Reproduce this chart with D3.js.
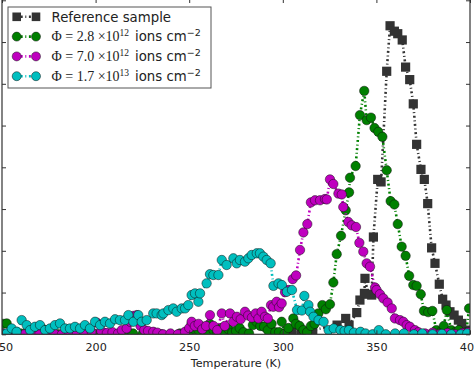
<!DOCTYPE html>
<html>
<head>
<meta charset="utf-8">
<script src="https://d3js.org/d3.v7.min.js"></script>
<style>
body { margin: 0; background: #fff; }
.axis text { font-family: "DejaVu Sans", sans-serif; font-size: 11.2px; fill: #222; }
.axis path { display: none; }
.axis line { stroke: #333; stroke-width: 1; }
.legend text { font-family: "DejaVu Sans", sans-serif; font-size: 13.3px; fill: #222; }
.legend .math { font-family: "Liberation Serif", serif; }
</style>
</head>
<body>
<svg id="chart" width="474" height="384"></svg>
<script>

// reference sample (T in K, signal in tick units)
var refT = [300,305,310,316,329,333.6,335.4,339.5,341.2,343.6,343.9,345.5,347.5,348.4,350.7,352.5,355.5,357.3,359.6,361.4,363.8,365.6,367.8,369.7,371.5,373.8,375.6,377.4,379.5,381.3,383.6,385.4,387.2,389.3,391.5,393.8,395.6,398.2];
var refV = [0.02,0.05,0.03,0.10,0.22,0.38,0.22,0.52,0.82,0.98,1.34,0.96,0.94,2.33,3.71,3.65,6.30,7.39,7.26,7.20,7.05,6.40,6.10,5.52,4.55,3.95,3.71,3.13,2.07,1.70,1.20,0.84,0.70,0.54,0.46,0.34,0.26,0.10];

// phi = 2.8e12
var g1T = [150.5,152.5,156,160,164,168,172,176,180,185,190,195,200,205,210,215,220,225,230,235,240,245,250,251.3,253,255,257,259,261,263,265,267,269,271,273,275,277,279,282,284,286,288,290,292,294,296,298,299.4,301,303,305.6,307,309,311,313,315,317,319,321.1,323,325.2,327,328.8,331.1,333.6,335.4,335.9,338.9,341.2,343.5,344.8,347.1,349,351,353.2,355.5,357.6,359.6,361.4,363.5,365.6,367.5,369.7,371.5,373.7,375.4,377.7,379.9,382,384,386,387.6,390,392,394,396,398,399.5];
var g1V = [0.25,0.26,0.05,0.02,0.10,0.05,0.12,0.03,0.00,0.02,0.00,0.03,0.00,0.02,0.00,0.05,0.02,0.00,0.03,0.00,0.00,0.02,0.05,0.25,0.12,0.10,0.18,0.05,0.25,0.10,0.02,0.15,0.05,0.12,0.04,0.08,0.15,0.05,0.02,0.22,0.30,0.20,0.18,0.10,0.25,0.05,0.05,0.30,0.02,0.15,0.38,0.25,0.20,0.10,0.05,0.20,0.25,0.50,0.70,0.60,0.72,1.24,1.92,2.36,2.97,3.40,3.75,4.03,5.25,5.83,5.13,5.19,4.94,4.85,4.73,3.93,3.19,3.11,2.64,2.10,1.88,1.40,1.18,1.16,0.96,0.56,0.53,0.56,0.10,0.05,0.20,0.58,0.10,0.05,0.10,0.02,0.05,0.62];

// phi = 7.0e12
var g2T = [150,154,158,162,166,170,174,178,182,186,190,194,198,200.6,203,206,209,212,214,216.6,218.5,220.1,222,224,226,228,230.8,233,236,240,244,247.8,250,251.3,253,255,257,259,261.1,263,265,267.4,269,271.8,273.5,275.5,277.5,279.8,281.5,283.5,285.5,287,288.7,290.5,292,293.7,294.9,296.7,298,299.4,301.2,302.9,305.3,307.1,309.2,311,313.1,315,317.2,319.9,322.5,323.5,325.2,327,329.7,331.5,332.3,335,336.8,339.1,340.9,343,344.8,346.6,349.3,350.1,351.9,353.7,356,358.2,359.9,362.6,364.4,366.2,367.9,370.6,372.4,376,380,384,388,392,396,399];
var g2V = [0.02,0.00,0.03,0.00,0.02,0.00,0.03,0.01,0.00,0.02,0.00,0.03,0.05,0.28,0.08,0.03,0.05,0.02,0.10,0.14,0.30,0.44,0.46,0.20,0.10,0.08,0.06,0.04,0.00,0.02,0.00,0.06,0.15,0.30,0.20,0.25,0.12,0.20,0.46,0.20,0.10,0.50,0.20,0.50,0.30,0.42,0.36,0.54,0.45,0.40,0.50,0.38,0.54,0.42,0.38,0.70,0.66,0.78,0.65,0.74,1.01,1.06,1.32,1.41,2.02,2.44,2.64,3.16,3.21,3.21,3.24,3.23,3.71,3.60,3.37,3.35,3.05,2.69,2.61,2.57,2.19,1.98,1.70,1.62,1.12,1.06,0.96,0.86,0.76,0.62,0.38,0.34,0.30,0.22,0.18,0.10,0.05,0.02,0.04,0.01,0.03,0.00,0.03,0.05];

// phi = 1.7e13
var g3T = [150.5,152.5,155.2,157.8,160.5,163.2,165,167.6,170.3,173,175.6,178.3,181,183.7,186.3,189,191.7,194.3,197,199.7,202.4,205,207.7,210.4,213,215.7,217.5,220.2,222.8,224.6,227.3,230.8,232.6,235.3,236.2,238.9,241.5,243.3,246,247.8,249.5,251.3,253.1,254.9,255.8,259.3,261.1,262.9,265.6,267.4,270,273.6,275.4,277.1,279.8,281.6,283.4,286.1,287.8,289.6,291.4,293.5,295,297.7,299.5,302.2,304.9,307.6,310.2,311.5,313.7,314.6,316.4,319.1,321.8,324.5,327.2,330.8,333,335.3,338,341.5,344.2,348,351.3,355,360,364.7,370,374.5,380,385,390,395,398.5];
var g3V = [0.00,0.02,0.14,0.06,0.34,0.22,0.10,0.18,0.22,0.10,0.14,0.22,0.26,0.14,0.14,0.18,0.14,0.22,0.14,0.30,0.22,0.30,0.26,0.36,0.34,0.34,0.46,0.30,0.46,0.30,0.34,0.50,0.50,0.46,0.50,0.58,0.62,0.54,0.62,0.62,0.70,0.94,0.98,0.78,0.98,1.22,1.44,1.42,1.42,1.78,1.66,1.82,1.70,1.78,1.74,1.82,1.90,1.94,1.94,1.86,1.78,1.70,1.16,1.22,1.18,1.02,1.06,0.58,0.57,0.92,0.70,0.54,0.42,0.34,0.30,0.10,0.14,0.10,0.08,0.10,0.04,0.06,0.02,0.00,0.10,0.00,0.02,0.02,0.00,0.02,0.00,0.01,0.00,0.00,0.02];

var xTicks = [150, 200, 250, 300, 350, 400];
var yTicks = [0, 1, 2, 3, 4, 5, 6, 7, 8];

var series = [
  {name: "ref", T: refT, V: refV, color: "#333333", shape: "square"},
  {name: "g1", T: g1T, V: g1V, color: "#008000", shape: "circle", mant: "2.8", exp: "12"},
  {name: "g2", T: g2T, V: g2V, color: "#bf00bf", shape: "circle", mant: "7.0", exp: "12"},
  {name: "g3", T: g3T, V: g3V, color: "#00bfbf", shape: "circle", mant: "1.7", exp: "13"}
];

var svg = d3.select("#chart");
var pLeft = 2, pRight = 470, pTop = -1, pBottom = 334.3;

var x = d3.scaleLinear().domain([150, 400]).range([pLeft, pRight]);
var y = d3.scaleLinear().domain([0, 8]).range([pBottom, 0.3]);

svg.append("defs").append("clipPath").attr("id", "plotclip")
  .append("rect").attr("x", pLeft).attr("y", pTop)
  .attr("width", pRight - pLeft).attr("height", pBottom - pTop);

var plot = svg.append("g").attr("clip-path", "url(#plotclip)");

var line = d3.line().x(function(d) { return x(d[0]); }).y(function(d) { return y(d[1]); });

series.forEach(function(s) {
  var pts = s.T.map(function(t, i) { return [t, s.V[i]]; });
  var g = plot.append("g").attr("class", "series " + s.name);
  g.append("path").datum(pts)
    .attr("d", line)
    .attr("fill", "none")
    .attr("stroke", s.color)
    .attr("stroke-width", 2.6)
    .attr("stroke-dasharray", "2,2.6,1,2.6");
  if (s.shape == "square") {
    g.selectAll("rect").data(pts).enter().append("rect")
      .attr("x", function(d) { return x(d[0]) - 4.6; })
      .attr("y", function(d) { return y(d[1]) - 4.6; })
      .attr("width", 9.2).attr("height", 9.2)
      .attr("fill", s.color);
  } else {
    g.selectAll("circle").data(pts).enter().append("circle")
      .attr("cx", function(d) { return x(d[0]); })
      .attr("cy", function(d) { return y(d[1]); })
      .attr("r", 4.7)
      .attr("fill", s.color)
      .attr("stroke", "#111").attr("stroke-width", 0.5);
  }
});

// axes, ticks pointing inward
svg.append("g").attr("class", "axis x")
  .attr("transform", "translate(0," + pBottom + ")")
  .call(d3.axisBottom(x).tickValues(xTicks).tickSizeInner(-4).tickSizeOuter(0).tickPadding(9));
svg.append("g").attr("class", "axis xtop")
  .attr("transform", "translate(0," + pTop + ")")
  .call(d3.axisTop(x).tickValues(xTicks).tickSizeInner(-4).tickSizeOuter(0).tickFormat(""));
svg.append("g").attr("class", "axis y")
  .attr("transform", "translate(" + pLeft + ",0)")
  .call(d3.axisLeft(y).tickValues(yTicks).tickSizeInner(-4).tickSizeOuter(0).tickFormat(""));
svg.append("g").attr("class", "axis yright")
  .attr("transform", "translate(" + pRight + ",0)")
  .call(d3.axisRight(y).tickValues(yTicks).tickSizeInner(-4).tickSizeOuter(0).tickFormat(""));

svg.append("rect")
  .attr("x", pLeft).attr("y", pTop)
  .attr("width", pRight - pLeft).attr("height", pBottom - pTop)
  .attr("fill", "none").attr("stroke", "#333").attr("stroke-width", 1.2);

svg.append("text")
  .attr("x", (pLeft + pRight) / 2).attr("y", 366.5)
  .attr("text-anchor", "middle")
  .style("font-family", "DejaVu Sans, sans-serif").style("font-size", "11.2px").style("fill", "#222")
  .text("Temperature (K)");

// legend
var legend = svg.append("g").attr("class", "legend");
legend.append("rect")
  .attr("x", 8).attr("y", 7).attr("width", 203).attr("height", 81)
  .attr("fill", "#fff").attr("stroke", "#555").attr("stroke-width", 1);

series.forEach(function(s, i) {
  var cy = 16.8 + i * 19.8;
  var row = legend.append("g");
  row.append("line")
    .attr("x1", 16.7).attr("x2", 36).attr("y1", cy).attr("y2", cy)
    .attr("stroke", s.color).attr("stroke-width", 2.6)
    .attr("stroke-dasharray", "2,2.6,1,2.6").attr("stroke-dashoffset", -4);
  [16.7, 36].forEach(function(mx) {
    if (s.shape == "square") {
      row.append("rect").attr("x", mx - 4.3).attr("y", cy - 4.3)
        .attr("width", 8.6).attr("height", 8.6).attr("fill", s.color);
    } else {
      row.append("circle").attr("cx", mx).attr("cy", cy).attr("r", 4.5)
        .attr("fill", s.color).attr("stroke", "#111").attr("stroke-width", 0.5);
    }
  });
  var t = row.append("text").attr("x", 51.5).attr("y", cy + 4.8);
  if (s.shape == "square") {
    t.text("Reference sample");
  } else {
    t.append("tspan").attr("class", "math").style("font-size", "14px")
      .text("\u03a6 = " + s.mant + " \u00d710");
    t.append("tspan").attr("class", "math").style("font-size", "9.5px").attr("dy", -5)
      .text(s.exp);
    t.append("tspan").attr("dy", 5).attr("dx", 6).text("ions cm");
    t.append("tspan").style("font-size", "9.5px").attr("dy", -5).text("\u22122");
  }
});

</script>
</body>
</html>
